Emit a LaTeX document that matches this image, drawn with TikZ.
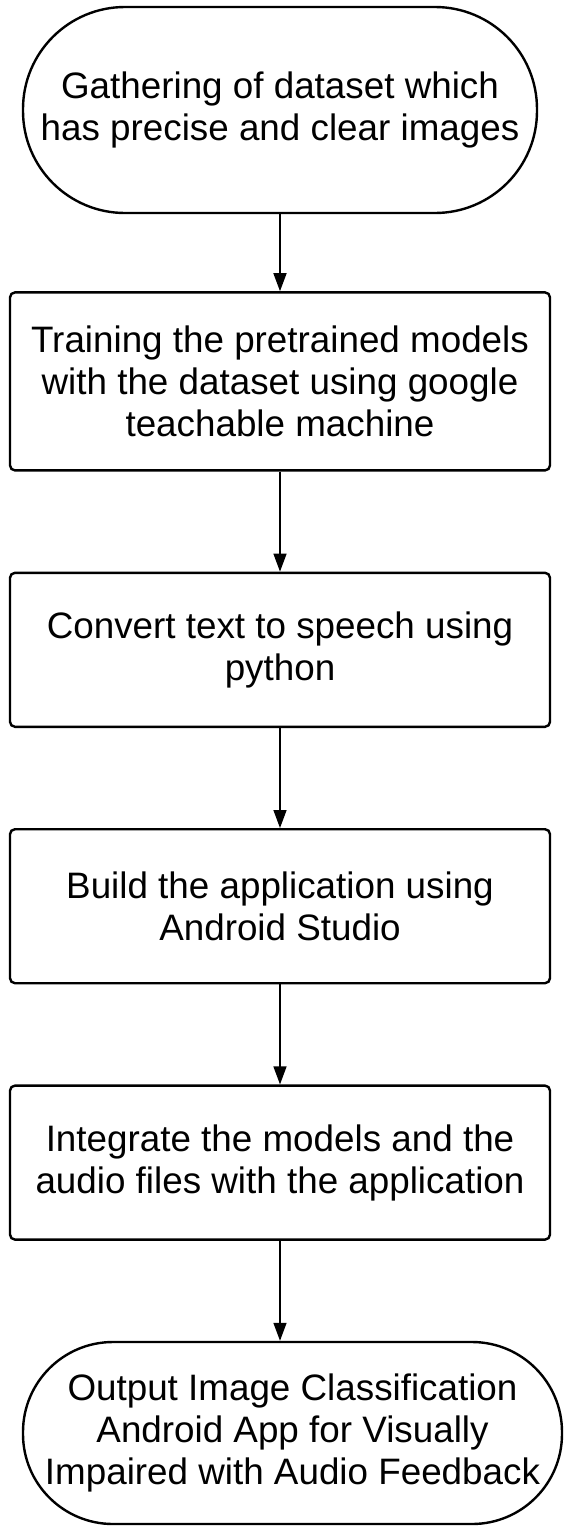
\documentclass[tikz,border=0pt]{standalone}
\usepackage{fontspec}
\setmainfont{Liberation Sans}
\usetikzlibrary{positioning,arrows.meta}

\begin{document}
\begin{tikzpicture}[-{Triangle[length=9pt,width=6.5pt]},line width=0.75pt,
    every node/.style={draw, line width=1.2pt, align=center, minimum width=270pt, font=\fontsize{18.4pt}{21pt}\selectfont},
    term/.style={rounded corners=#1},
    proc/.style={rounded corners=2.5pt, minimum height=77pt},
    node distance=50pt]
    \useasboundingbox (0,0) rectangle (287pt,-763.5pt);

    \node (1) [term=51pt, minimum width=257pt, minimum height=103pt] at (140pt,-55pt) {Gathering of dataset which\\has precise and clear images};
    \node (2) [proc, minimum height=89pt, below=38.5pt of 1] {Training the pretrained models\\with the dataset using google\\teachable machine};
    \node (3) [proc, below=of 2] {Convert text to speech using\\python};
    \node (4) [proc, below=of 3] {Build the application using\\Android Studio};
    \node (5) [proc, below=of 4] {Integrate the models and the\\audio files with the application};
    \node (6) [term=45pt, minimum width=269.5pt, minimum height=91pt, below=of 5, xshift=6.25pt] {Output Image Classification\\Android App for Visually\\Impaired with Audio Feedback};

    \path (1) edge (2)
          (2) edge (3)
          (3) edge (4)
          (4) edge (5)
          (5.south) edge (5.south |- 6.north);
\end{tikzpicture}
\end{document}
